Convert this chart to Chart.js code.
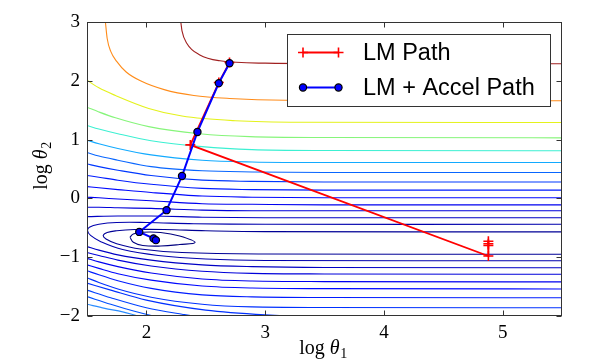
<!DOCTYPE html>
<html>
<head>
<meta charset="utf-8">
<script src="https://cdn.jsdelivr.net/npm/chart.js@4.4.1/dist/chart.umd.min.js"></script>
<style>
  html, body { margin: 0; padding: 0; background: #fff; }
  #wrap { width: 613px; height: 362px; }
</style>
</head>
<body>
<div id="wrap"><canvas id="chart"></canvas></div>
<script>
// axis ticks
const xTicks = [2, 3, 4, 5];
const yTicks = [-2, -1, 0, 1, 2, 3];

// optimisation paths (log theta1, log theta2)
const lmX = [2.70, 2.61, 2.37, 4.88, 4.88, 4.88, 4.88];
const lmY = [2.31, 1.97, 0.91, -0.98, -0.73, -0.77, -0.80];
const accelX = [2.70, 2.61, 2.43, 2.30, 2.17, 1.94, 2.06, 2.08];
const accelY = [2.30, 1.96, 1.13, 0.38, -0.20, -0.57, -0.68, -0.71];

// contour lines, outermost (top) first
const contourTop = [
  [[2.29, 3.0], [2.30, 2.85], [2.34, 2.64], [2.45, 2.44], [2.62, 2.34], [3.0, 2.30], [4.0, 2.29], [5.5, 2.29]],
  [[1.655, 3.0], [1.67, 2.72], [1.70, 2.50], [1.75, 2.33], [1.83, 2.15], [1.95, 2.0], [2.15, 1.85], [2.4, 1.75],
   [2.7, 1.70], [3.17, 1.67], [5.5, 1.66]],
  [[1.5, 2.01], [1.6, 1.88], [1.74, 1.75], [2.02, 1.53], [2.3, 1.40], [2.75, 1.32], [3.3, 1.295], [5.5, 1.29]],
  [[1.5, 1.55], [1.6, 1.47], [1.74, 1.37], [2.02, 1.22], [2.45, 1.10], [2.87, 1.05], [3.5, 1.035], [5.5, 1.03]],
  [[1.5, 1.24], [1.6, 1.18], [1.76, 1.10], [2.04, 0.98], [2.47, 0.88], [2.89, 0.83], [3.5, 0.815], [5.5, 0.81]],
  [[1.5, 0.99], [1.6, 0.93], [1.76, 0.85], [2.04, 0.74], [2.47, 0.65], [2.89, 0.62], [3.5, 0.61], [5.5, 0.61]],
  [[1.5, 0.78], [1.6, 0.72], [1.76, 0.65], [2.04, 0.54], [2.47, 0.47], [2.89, 0.45], [3.5, 0.44], [5.5, 0.44]],
  [[1.5, 0.585], [1.6, 0.54], [1.76, 0.48], [2.04, 0.39], [2.47, 0.31], [2.89, 0.29], [3.5, 0.28], [5.5, 0.28]],
  [[1.5, 0.39], [1.6, 0.36], [1.76, 0.31], [2.04, 0.24], [2.47, 0.17], [2.89, 0.15], [3.5, 0.14], [5.5, 0.14]],
  [[1.5, 0.20], [1.6, 0.18], [1.76, 0.15], [2.04, 0.10], [2.47, 0.04], [2.89, 0.02], [3.5, 0.01], [5.5, 0.01]],
  [[1.5, 0.02], [1.6, 0.01], [1.76, -0.01], [2.04, -0.04], [2.47, -0.09], [2.89, -0.10], [3.5, -0.11], [5.5, -0.11]],
  [[1.5, -0.15], [1.6, -0.15], [1.76, -0.16], [2.04, -0.17], [2.47, -0.20], [2.89, -0.21], [5.5, -0.21]],
  [[1.5, -0.31], [1.76, -0.30], [2.04, -0.30], [2.47, -0.32], [3.0, -0.33], [5.5, -0.33]]
];
const contourTopColors = ['#a02020', '#ff8c1a', '#e4f21c', '#86f57a', '#3cf0d2', '#12aaff', '#0866ff',
  '#0038ff', '#001cff', '#0008ff', '#0000f0', '#0000da', '#0000c4'];

// U shaped lines and the closed loop round the minimum
const contourU = [
  [[5.5, -0.44], [3.0, -0.44], [2.4, -0.43], [2.0, -0.41], [1.75, -0.41], [1.6, -0.44], [1.52, -0.49], [1.505, -0.55],
   [1.53, -0.63], [1.62, -0.74], [1.8, -0.87], [2.1, -0.97], [2.5, -1.03], [3.0, -1.055], [5.5, -1.06]],
  [[5.5, -0.57], [3.0, -0.565], [2.5, -0.55], [2.15, -0.53], [1.9, -0.53], [1.75, -0.55], [1.67, -0.58], [1.637, -0.63],
   [1.66, -0.69], [1.75, -0.77], [1.95, -0.86], [2.3, -0.92], [3.0, -0.945], [5.5, -0.95]],
  [[1.862, -0.66], [1.89, -0.605], [1.97, -0.575], [2.12, -0.58], [2.28, -0.64], [2.41, -0.75], [2.28, -0.785],
   [2.12, -0.81], [1.97, -0.80], [1.89, -0.745], [1.862, -0.66]]
];
const contourUColors = ['#0000ad', '#000096', '#00007f'];

// lines below the valley, top first
const contourLow = [
  [[1.5, -0.82], [1.6, -0.88], [1.76, -0.96], [2.04, -1.05], [2.47, -1.13], [2.89, -1.16], [3.5, -1.175], [5.5, -1.18]],
  [[1.5, -0.92], [1.6, -0.97], [1.76, -1.05], [2.04, -1.15], [2.47, -1.24], [2.89, -1.275], [3.5, -1.285], [5.5, -1.29]],
  [[1.5, -1.02], [1.6, -1.08], [1.76, -1.16], [2.04, -1.27], [2.47, -1.37], [2.89, -1.405], [3.5, -1.415], [5.5, -1.42]],
  [[1.5, -1.13], [1.6, -1.19], [1.76, -1.28], [2.04, -1.39], [2.47, -1.49], [2.89, -1.525], [3.5, -1.535], [5.5, -1.54]],
  [[1.5, -1.23], [1.6, -1.30], [1.76, -1.40], [2.04, -1.53], [2.47, -1.64], [2.89, -1.675], [3.5, -1.685], [5.5, -1.69]],
  [[1.5, -1.35], [1.6, -1.43], [1.76, -1.54], [2.04, -1.68], [2.47, -1.80], [2.89, -1.845], [3.5, -1.855], [5.5, -1.86]],
  [[1.5, -1.44], [1.7, -1.56], [2.0, -1.73], [2.5, -1.90], [3.0, -1.98], [3.6, -2.02], [5.5, -2.05]],
  [[1.5, -1.56], [1.7, -1.69], [2.0, -1.86], [2.3, -1.97], [2.6, -2.06], [3.0, -2.12]],
  [[1.5, -1.67], [1.7, -1.80], [1.9, -1.92], [2.1, -2.02], [2.3, -2.10]],
  [[1.5, -1.80], [1.65, -1.87], [1.8, -1.93], [1.93, -2.0], [2.05, -2.06]]
];
const contourLowColors = ['#0000c4', '#0000da', '#0000f0', '#0008ff', '#001cff', '#0030ff',
  '#0030ff', '#0040ff', '#0050ff', '#2a8cff'];

const toPts = arr => arr.map(p => ({ x: p[0], y: p[1] }));

const datasets = [];
datasets.push({
  label: 'LM + Accel Path',
  data: accelX.map((v, i) => ({ x: v, y: accelY[i] })),
  showLine: true, borderColor: '#0000ff', borderWidth: 2,
  pointRadius: 3.6, pointBackgroundColor: '#0000ff', pointBorderColor: '#000', pointBorderWidth: 1.2,
  order: 0
});
datasets.push({
  label: 'LM Path',
  data: lmX.map((v, i) => ({ x: v, y: lmY[i] })),
  showLine: true, borderColor: '#ff0000', borderWidth: 1.8,
  pointStyle: 'cross', pointRadius: 5, pointBorderColor: '#ff0000', pointBorderWidth: 1.6,
  order: 1
});
contourTop.forEach((c, i) => datasets.push({
  label: 'top' + i, data: toPts(c), showLine: true, pointRadius: 0, borderWidth: 1.1,
  borderColor: contourTopColors[i], cubicInterpolationMode: 'monotone', order: 10
}));
contourU.forEach((c, i) => datasets.push({
  label: 'u' + i, data: toPts(c), showLine: true, pointRadius: 0, borderWidth: 1.1,
  borderColor: contourUColors[i], tension: 0.4, order: 10
}));
contourLow.forEach((c, i) => datasets.push({
  label: 'low' + i, data: toPts(c), showLine: true, pointRadius: 0, borderWidth: 1.1,
  borderColor: contourLowColors[i], cubicInterpolationMode: 'monotone', order: 10
}));

const serif = "'Liberation Serif', 'DejaVu Serif', serif";

// frame with inward ticks on all four sides
const framePlugin = {
  id: 'frame',
  afterDatasetsDraw(chart) {
    const { ctx, chartArea: a, scales: { x, y } } = chart;
    ctx.save();
    ctx.strokeStyle = '#333';
    ctx.lineWidth = 1;
    const l = Math.round(a.left) + 0.5, r = Math.round(a.right) - 0.5;
    const t = Math.round(a.top) + 0.5, b = Math.round(a.bottom) - 0.5;
    ctx.strokeRect(l, t, r - l, b - t);
    ctx.beginPath();
    xTicks.forEach(v => {
      const px = Math.round(x.getPixelForValue(v)) + 0.5;
      ctx.moveTo(px, b); ctx.lineTo(px, b - 5);
      ctx.moveTo(px, t); ctx.lineTo(px, t + 5);
    });
    yTicks.forEach(v => {
      const py = Math.round(y.getPixelForValue(v)) + 0.5;
      ctx.moveTo(l, py); ctx.lineTo(l + 5, py);
      ctx.moveTo(r, py); ctx.lineTo(r - 5, py);
    });
    ctx.stroke();
    ctx.restore();
  }
};

function drawLogTheta(ctx, sub) {
  ctx.font = '20px ' + serif;
  const w1 = ctx.measureText('log ').width;
  ctx.font = 'italic 20px ' + serif;
  const w2 = ctx.measureText('\u03b8').width;
  ctx.font = '14px ' + serif;
  const w3 = ctx.measureText(sub).width;
  let x0 = -(w1 + w2 + w3) / 2;
  ctx.textBaseline = 'alphabetic';
  ctx.textAlign = 'left';
  ctx.font = '20px ' + serif;
  ctx.fillText('log ', x0, 0);
  ctx.font = 'italic 20px ' + serif;
  ctx.fillText('\u03b8', x0 + w1, 0);
  ctx.font = '14px ' + serif;
  ctx.fillText(sub, x0 + w1 + w2 + 0.5, 4);
}

const titlePlugin = {
  id: 'titles',
  afterDraw(chart) {
    const { ctx } = chart;
    ctx.save();
    ctx.fillStyle = '#000';
    ctx.translate(323, 354);
    drawLogTheta(ctx, '1');
    ctx.restore();
    ctx.save();
    ctx.fillStyle = '#000';
    ctx.translate(47, 166);
    ctx.rotate(-Math.PI / 2);
    drawLogTheta(ctx, '2');
    ctx.restore();
  }
};

// matplotlib style legend box
const legendPlugin = {
  id: 'mplLegend',
  afterDraw(chart) {
    const { ctx } = chart;
    const items = [chart.data.datasets[1], chart.data.datasets[0]];
    ctx.save();
    ctx.fillStyle = '#fff';
    ctx.strokeStyle = '#333';
    ctx.lineWidth = 1;
    ctx.fillRect(287.5, 34.5, 263, 72);
    ctx.strokeRect(287.5, 34.5, 263, 72);
    items.forEach((ds, i) => {
      const yy = 52.5 + i * 35;
      const x1 = 303, x2 = 338.5;
      ctx.strokeStyle = ds.borderColor;
      ctx.lineWidth = ds.borderWidth;
      ctx.beginPath(); ctx.moveTo(x1, yy); ctx.lineTo(x2, yy); ctx.stroke();
      [x1, x2].forEach(px => {
        if (ds.pointStyle === 'cross') {
          ctx.strokeStyle = ds.pointBorderColor;
          ctx.lineWidth = ds.pointBorderWidth;
          ctx.beginPath();
          ctx.moveTo(px - 5, yy); ctx.lineTo(px + 5, yy);
          ctx.moveTo(px, yy - 5); ctx.lineTo(px, yy + 5);
          ctx.stroke();
        } else {
          ctx.fillStyle = ds.pointBackgroundColor;
          ctx.strokeStyle = ds.pointBorderColor;
          ctx.lineWidth = ds.pointBorderWidth;
          ctx.beginPath(); ctx.arc(px, yy, ds.pointRadius, 0, Math.PI * 2);
          ctx.fill(); ctx.stroke();
        }
      });
      ctx.fillStyle = '#000';
      ctx.font = "23.5px 'Liberation Sans', Arial, sans-serif";
      ctx.textBaseline = 'alphabetic';
      ctx.textAlign = 'left';
      ctx.fillText(ds.label, 363, 60 + i * 35);
    });
    ctx.restore();
  }
};

const fmt = v => (v < 0 ? '\u2212' + Math.abs(v) : String(v));

new Chart(document.getElementById('chart'), {
  type: 'scatter',
  data: { datasets: datasets },
  plugins: [framePlugin, titlePlugin, legendPlugin],
  options: {
    responsive: true,
    maintainAspectRatio: false,
    animation: false,
    layout: { padding: { left: 0, right: 51, top: 22, bottom: 0 } },
    plugins: { legend: { display: false }, tooltip: { enabled: false } },
    scales: {
      x: {
        type: 'linear', min: 1.5, max: 5.5,
        afterBuildTicks: s => { s.ticks = xTicks.map(v => ({ value: v })); },
        afterFit: s => { s.height = 46; },
        grid: { display: false, drawTicks: false },
        border: { display: false },
        ticks: { color: '#000', padding: 6, maxRotation: 0, font: { family: serif, size: 19 }, callback: fmt }
      },
      y: {
        type: 'linear', min: -2, max: 3,
        afterBuildTicks: s => { s.ticks = yTicks.map(v => ({ value: v })); },
        afterFit: s => { s.width = 87; },
        grid: { display: false, drawTicks: false },
        border: { display: false },
        ticks: { color: '#000', padding: 7, font: { family: serif, size: 19 }, callback: fmt }
      }
    }
  }
});
</script>
</body>
</html>
